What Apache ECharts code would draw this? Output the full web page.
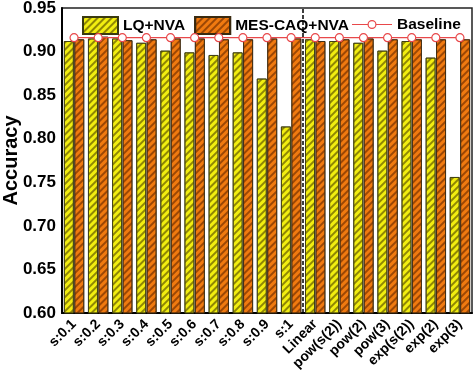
<!DOCTYPE html>
<html>
<head>
<meta charset="utf-8">
<script src="https://cdn.jsdelivr.net/npm/echarts@6/dist/echarts.min.js"></script>
<style>
html, body { margin: 0; padding: 0; background: #fff; }
#chart { width: 474px; height: 377px; }
</style>
</head>
<body>
<div id="chart"></div>
<script>
var chart = echarts.init(document.getElementById('chart'));

// data
var categories = ['s:0.1', 's:0.2', 's:0.3', 's:0.4', 's:0.5', 's:0.6', 's:0.7', 's:0.8', 's:0.9', 's:1',
    'Linear', 'pow(s(2))', 'pow(2)', 'pow(3)', 'exp(s(2))', 'exp(2)', 'exp(3)'];
var lqNva = [0.912, 0.915, 0.915, 0.910, 0.901, 0.899, 0.896, 0.899, 0.869, 0.814,
    0.914, 0.912, 0.910, 0.901, 0.912, 0.893, 0.756];
var mesCaqNva = [0.914, 0.917, 0.913, 0.914, 0.915, 0.915, 0.914, 0.914, 0.915, 0.915,
    0.912, 0.914, 0.915, 0.914, 0.914, 0.914, 0.914];
var baseline = [0.916, 0.916, 0.916, 0.916, 0.916, 0.916, 0.916, 0.916, 0.916, 0.916,
    0.916, 0.916, 0.916, 0.916, 0.916, 0.916, 0.916];
// divider between the s:* group and the function group (category boundary)
var dividerAt = 9.5;

var font = 'Liberation Sans, Arial, sans-serif';
var red = '#e8484a';

function hatch(col) {
    return {
        symbol: 'rect',
        symbolSize: 1,
        rotation: -Math.PI / 4,
        dashArrayX: [1, 0],
        dashArrayY: [1.5, 2.5],
        color: col
    };
}

var legendText = { fontFamily: font, fontWeight: 'bold', fontSize: 15.5, color: '#000' };

var option = {
    animation: false,
    grid: {
        left: 62, right: 2, top: 8, bottom: 64,
        outerBoundsMode: 'none',
        containLabel: false,
        show: true, borderColor: '#222', borderWidth: 1.5
    },
    legend: [
        {
            top: 11,
            left: 77,
            icon: 'rect',
            itemWidth: 35,
            itemHeight: 17,
            itemGap: 9,
            textStyle: legendText,
            data: ['LQ+NVA', 'MES-CAQ+NVA']
        },
        {
            top: 11,
            left: 347,
            itemWidth: 40,
            itemHeight: 17,
            textStyle: legendText,
            data: [{
                name: 'Baseline',
                icon: 'path://M0,7.9 L15.6,7.9 L15.6,9.1 L0,9.1 Z M24.4,7.9 L40,7.9 L40,9.1 L24.4,9.1 Z ' +
                    'M15.5,8.5 A4.5,4.5 0 1,1 24.5,8.5 A4.5,4.5 0 1,1 15.5,8.5 Z ' +
                    'M16.7,8.5 A3.3,3.3 0 1,0 23.3,8.5 A3.3,3.3 0 1,0 16.7,8.5 Z ' +
                    'M20,0 L20,0 Z M20,17 L20,17 Z',
                itemStyle: { color: red, borderWidth: 0 }
            }]
        }
    ],
    xAxis: [
        {
            type: 'category',
            data: categories,
            axisLine: { lineStyle: { color: '#000', width: 2 } },
            axisTick: { show: false },
            axisLabel: {
                interval: 0, rotate: 45, margin: 9,
                fontFamily: font, fontWeight: 'bold', fontSize: 14, color: '#000'
            }
        },
        {
            type: 'value',
            show: false,
            min: -0.5,
            max: categories.length - 0.5
        }
    ],
    yAxis: {
        type: 'value',
        min: 0.6,
        max: 0.95,
        interval: 0.05,
        name: 'Accuracy',
        nameLocation: 'middle',
        nameGap: 41,
        nameMoveOverlap: false,
        nameTextStyle: { fontFamily: font, fontWeight: 'bold', fontSize: 20, color: '#000' },
        axisLine: { show: true, onZero: false, lineStyle: { color: '#000', width: 2 } },
        axisTick: { show: false },
        splitLine: { show: false },
        axisLabel: {
            fontFamily: font, fontWeight: 'bold', fontSize: 17, color: '#000', margin: 6,
            formatter: function (v) { return v.toFixed(2); }
        }
    },
    series: [
        {
            name: 'LQ+NVA',
            type: 'bar',
            data: lqNva,
            barGap: '6%',
            barCategoryGap: '16%',
            itemStyle: {
                color: '#f2ee10',
                borderColor: '#3a3a10',
                borderWidth: 0.8,
                decal: hatch('rgba(110,100,0,0.75)')
            }
        },
        {
            name: 'MES-CAQ+NVA',
            type: 'bar',
            data: mesCaqNva,
            itemStyle: {
                color: '#f07a10',
                borderColor: '#3a2a10',
                borderWidth: 0.8,
                decal: hatch('rgba(120,50,0,0.7)')
            }
        },
        {
            name: 'Baseline',
            type: 'line',
            data: baseline,
            symbol: 'circle',
            symbolSize: 8,
            itemStyle: { color: '#fff', borderColor: red, borderWidth: 1.2 },
            lineStyle: { color: red, width: 1.2 },
            z: 5
        },
        {
            type: 'line',
            xAxisIndex: 1,
            data: [],
            markLine: {
                silent: true,
                symbol: 'none',
                label: { show: false },
                lineStyle: { color: '#000', type: [4, 2], width: 1.5 },
                data: [{ xAxis: dividerAt }]
            },
            z: 4
        }
    ]
};

chart.setOption(option);
</script>
</body>
</html>
